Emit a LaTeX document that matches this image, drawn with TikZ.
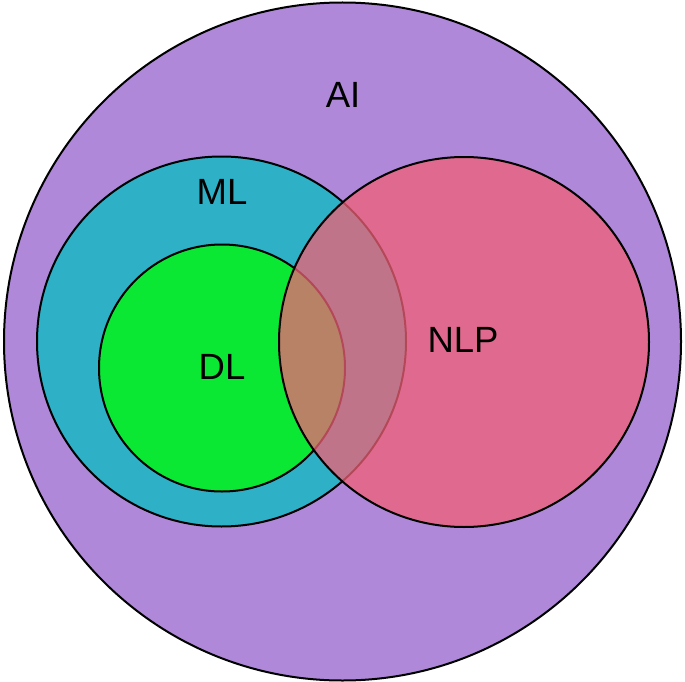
\documentclass[tikz,border=0pt]{standalone}
\usepackage{fontspec}
\setmainfont{Liberation Sans}
\definecolor{aicol}{RGB}{176,136,218}
\definecolor{mlcol}{RGB}{46,176,198}
\definecolor{dlcol}{RGB}{11,232,52}
\definecolor{nlpcol}{RGB}{241,97,118}
\begin{document}
\begin{tikzpicture}[x=1pt,y=-1pt,
  setline/.style={draw=black,line width=2pt},
  lbl/.style={anchor=base,inner sep=0pt,font=\fontsize{36.5}{40}\selectfont}]
\useasboundingbox (0,0) rectangle (685,682);
% AI
\fill[aicol] (342.5,341.5) ellipse [x radius=338.5,y radius=339];
\draw[setline] (342.5,341.5) ellipse [x radius=338.5,y radius=339];
% ML
\fill[mlcol] (221.5,341.5) ellipse [x radius=184.5,y radius=185];
\draw[setline] (221.5,341.5) ellipse [x radius=184.5,y radius=185];
% DL
\fill[dlcol] (222,368) ellipse [x radius=123,y radius=123.5];
\draw[setline] (222,368) ellipse [x radius=123,y radius=123.5];
% NLP
\fill[nlpcol,fill opacity=0.75] (464,342) ellipse [x radius=185,y radius=185];
\draw[setline] (464,342) ellipse [x radius=185,y radius=185];
% labels
\node[lbl] (ai) at (343,107.7) {AI};
\node[lbl] (ml) at (222,204.3) {ML};
\node[lbl] (dl) at (222,379.3) {DL};
\node[lbl] (nlp) at (463,352.7) {NLP};
\end{tikzpicture}
\end{document}
